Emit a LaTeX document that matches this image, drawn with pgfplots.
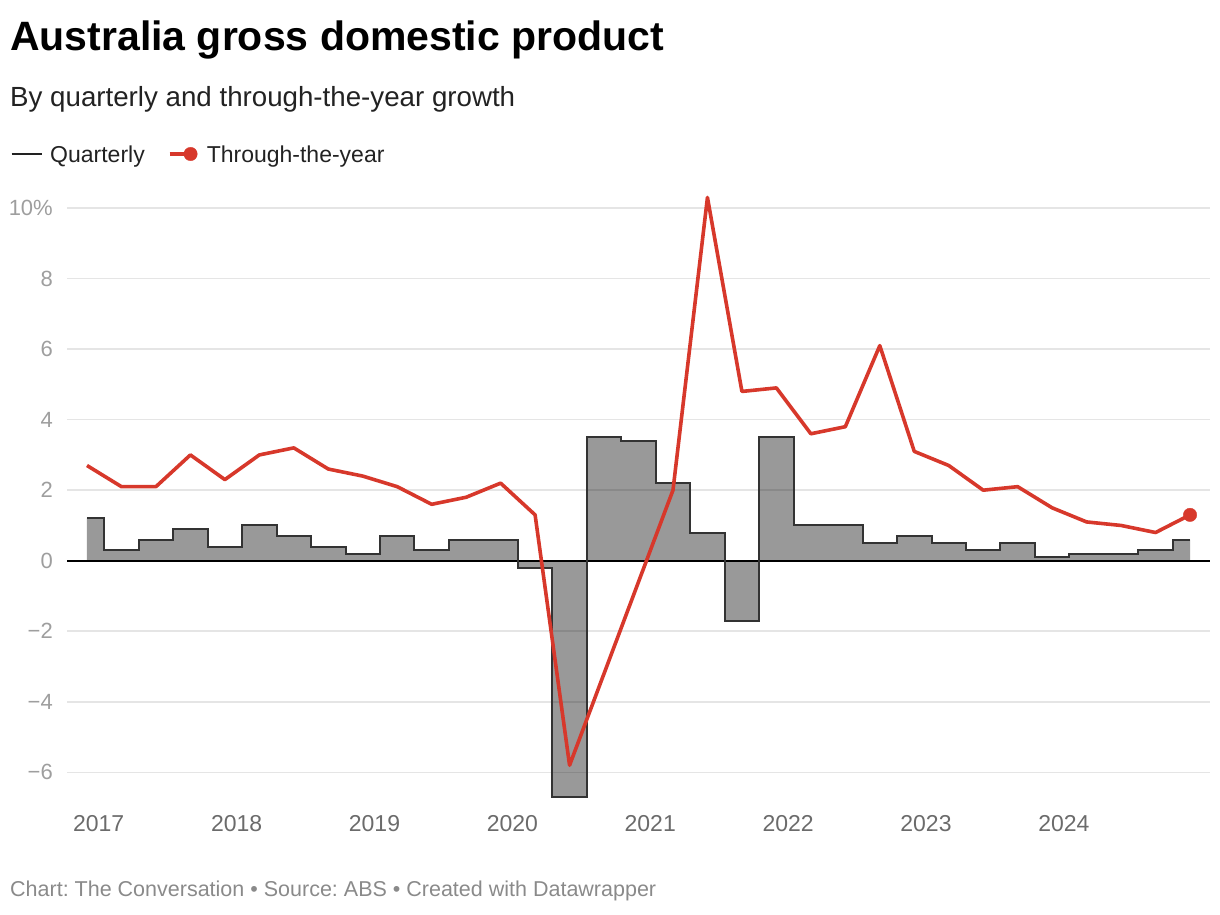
\documentclass[border=0pt]{standalone}
\usepackage{fontspec}
\setmainfont{Liberation Sans}
\usepackage{pgfplots}
\pgfplotsset{compat=1.18}
\definecolor{ttyred}{HTML}{D7382B}
\definecolor{gridgray}{HTML}{E5E5E5}
\definecolor{ylab}{HTML}{9E9E9E}
\definecolor{xlab}{HTML}{6B6B6B}
\definecolor{foot}{HTML}{8A8A8A}
\definecolor{txt}{HTML}{222222}
\definecolor{stepline}{HTML}{333333}
\frenchspacing
\begin{document}
\begin{tikzpicture}
\useasboundingbox (0pt,0pt) rectangle (1220pt,-914pt);
\node[anchor=base west, inner sep=0pt, font=\fontsize{41}{48}\selectfont\bfseries] at (10pt,-50pt) {Australia gross domestic product};
\node[anchor=base west, inner sep=0pt, text=txt, font=\fontsize{27.7}{33}\selectfont] at (10pt,-106pt) {By quarterly and through-the-year growth};
\node[anchor=base west, inner sep=0pt, text=foot, font=\fontsize{21.5}{25}\selectfont] at (10pt,-896.7pt) {Chart: The Conversation • Source: ABS • Created with Datawrapper};
\begin{axis}[
  at={(67pt,-807.6pt)}, anchor=south west,
  scale only axis, width=1143pt, height=617.2pt,
  xmin=-0.58, xmax=32.58, ymin=-7, ymax=10.5,
  axis line style={draw=none},
  major tick length=0pt,
  xtick={0.34,4.34,8.34,12.34,16.34,20.34,24.34,28.34},
  xticklabels={2017,2018,2019,2020,2021,2022,2023,2024},
  xticklabel style={anchor=base, inner sep=0pt, yshift=-24pt, text=xlab, font=\fontsize{23}{27}\selectfont},
  ytick={-6,-4,-2,2,4,6,8,10},
  yticklabels={−6,−4,−2,2,4,6,8,10\%},
  yticklabel style={anchor=east, inner sep=0pt, xshift=-14pt, text=ylab, font=\fontsize{22}{26}\selectfont},
  extra y ticks={0}, extra y tick labels={0},
  extra y tick style={ymajorgrids=true, major grid style={color=black, line width=2pt}},
  ymajorgrids, major grid style={color=gridgray, line width=1.6pt},
  legend columns=2,
  legend style={at={(-0.04926,1.05898)}, anchor=west, draw=none, fill=none,
    inner xsep=0pt, inner ysep=0pt,
    font=\fontsize{23}{27}\selectfont, text=txt,
    nodes={inner sep=0pt, text height=16.5pt, text depth=0pt},
    /tikz/every even column/.append style={column sep=23pt}},
]
\addplot[const plot mark mid, draw=none, fill=black, fill opacity=0.4, forget plot] coordinates {
(0,1.2)(1,0.3)(2,0.6)(3,0.9)(4,0.4)(5,1.0)(6,0.7)(7,0.4)(8,0.2)(9,0.7)(10,0.3)(11,0.6)(12,0.6)(13,-0.2)(14,-6.7)(15,3.5)(16,3.4)(17,2.2)(18,0.8)(19,-1.7)(20,3.5)(21,1.0)(22,1.0)(23,0.5)(24,0.7)(25,0.5)(26,0.3)(27,0.5)(28,0.1)(29,0.2)(30,0.2)(31,0.3)(32,0.6)
} \closedcycle;
\addplot[const plot mark mid, color=stepline, line width=2pt, forget plot] coordinates {
(0,1.2)(1,0.3)(2,0.6)(3,0.9)(4,0.4)(5,1.0)(6,0.7)(7,0.4)(8,0.2)(9,0.7)(10,0.3)(11,0.6)(12,0.6)(13,-0.2)(14,-6.7)(15,3.5)(16,3.4)(17,2.2)(18,0.8)(19,-1.7)(20,3.5)(21,1.0)(22,1.0)(23,0.5)(24,0.7)(25,0.5)(26,0.3)(27,0.5)(28,0.1)(29,0.2)(30,0.2)(31,0.3)(32,0.6)
};
\addplot[color=ttyred, line width=3.6pt, line join=round, forget plot] coordinates {
(0,2.7)(1,2.1)(2,2.1)(3,3.0)(4,2.3)(5,3.0)(6,3.2)(7,2.6)(8,2.4)(9,2.1)(10,1.6)(11,1.8)(12,2.2)(13,1.3)(14,-5.8)(15,-3.2)(16,-0.6)(17,2.0)(18,10.3)(19,4.8)(20,4.9)(21,3.6)(22,3.8)(23,6.1)(24,3.1)(25,2.7)(26,2.0)(27,2.1)(28,1.5)(29,1.1)(30,1.0)(31,0.8)(32,1.3)
};
\addplot[only marks, mark=*, mark size=6.7pt, color=ttyred, forget plot] coordinates {(32,1.3)};
\addlegendimage{legend image code/.code={\draw[txt, line width=1.6pt] (0pt,0pt) -- (30.3pt,0pt); \path (38.3pt,0pt);}}
\addlegendentry{Quarterly}
\addlegendimage{legend image code/.code={\draw[ttyred, line width=3.6pt] (0pt,0pt) -- (21pt,0pt); \fill[ttyred] (21pt,0pt) circle (6.7pt); \path (37pt,0pt);}}
\addlegendentry{Through-the-year}
\end{axis}
\end{tikzpicture}
\end{document}
